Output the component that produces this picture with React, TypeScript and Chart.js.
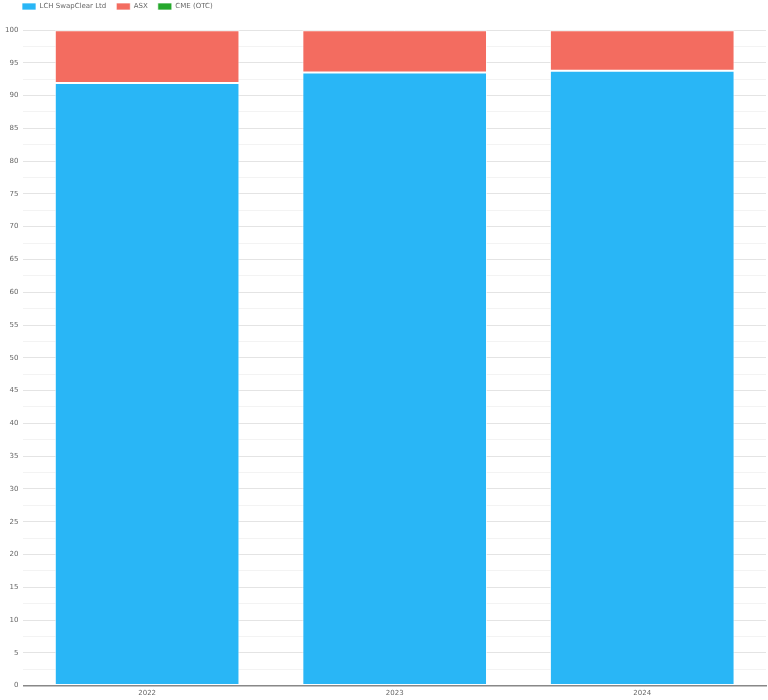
import React, { useEffect, useRef } from 'react';
import Chart from 'chart.js/auto';

const years = ['2022', '2023', '2024'];
const lchValues = [91.9, 93.5, 93.8];
const asxValues = [8.05, 6.45, 6.15];
const cmeValues = [0.05, 0.05, 0.05];

const FONT = '"DejaVu Sans", Verdana, sans-serif';

// nudge the legend up and to the right so it lines up with the plot area
const legendShift = {
  id: 'legendShift',
  afterLayout(chart: any) {
    const lg = chart.legend;
    if (!lg) return;
    lg.left += 12;
    lg.right += 12;
    lg.top -= 10;
    lg.bottom -= 10;
  },
};

const App: React.FC = () => {
  const chartRef = useRef<HTMLCanvasElement | null>(null);
  const chartInstance = useRef<Chart | null>(null);

  useEffect(() => {
    document.body.style.margin = '0';
    if (!chartRef.current) return;
    if (chartInstance.current) chartInstance.current.destroy();
    const ctx = chartRef.current.getContext('2d');
    if (!ctx) return;

    const barStyle = {
      borderColor: 'rgba(255,255,255,0.7)',
      borderWidth: 1,
      borderSkipped: false as const,
      categoryPercentage: 1,
      barPercentage: 0.746,
    };

    chartInstance.current = new Chart(ctx, {
      type: 'bar',
      data: {
        labels: years,
        datasets: [
          { label: 'LCH SwapClear Ltd', data: lchValues, backgroundColor: '#29b6f6', ...barStyle },
          { label: 'ASX', data: asxValues, backgroundColor: '#f36c60', ...barStyle },
          { label: 'CME (OTC)', data: cmeValues, backgroundColor: '#25a82c', ...barStyle },
        ],
      },
      options: {
        responsive: true,
        maintainAspectRatio: false,
        animation: false,
        layout: { padding: { top: 3, right: 2, bottom: 0, left: 0 } },
        plugins: {
          legend: {
            position: 'top',
            align: 'start',
            labels: {
              boxWidth: 14,
              boxHeight: 7,
              padding: 10,
              color: '#666',
              font: { size: 7, family: FONT },
            },
          },
          tooltip: { enabled: false },
        },
        scales: {
          x: {
            stacked: true,
            grid: { display: false, drawTicks: false },
            border: { display: true, color: '#888', width: 1.5 },
            ticks: { color: '#666', font: { size: 7, family: FONT }, padding: 3 },
          },
          y: {
            stacked: true,
            min: 0,
            max: 100,
            border: { display: false },
            grid: {
              drawTicks: false,
              color: (c: any) => (c.tick && c.tick.value % 5 === 0 ? '#e4e4e4' : '#f3f3f3'),
            },
            ticks: {
              stepSize: 2.5,
              padding: 5,
              color: '#666',
              font: { size: 7, family: FONT },
              callback: (v: any) => (Number(v) % 5 === 0 ? String(v) : ''),
            },
          },
        },
      },
      plugins: [legendShift],
    });

    return () => {
      if (chartInstance.current) chartInstance.current.destroy();
    };
  }, []);

  return (
    <div style={{ width: 768, height: 700, position: 'relative' }}>
      <canvas ref={chartRef} />
    </div>
  );
};

export default App;
